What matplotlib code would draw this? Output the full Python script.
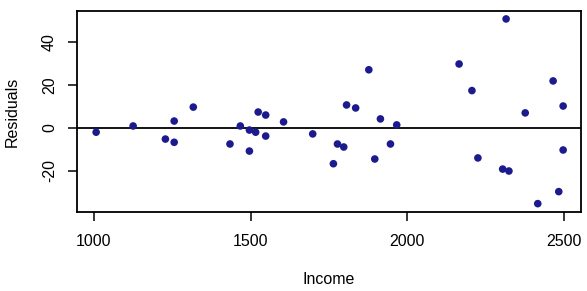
import numpy as np
import matplotlib
matplotlib.use("Agg")
import matplotlib.pyplot as plt

plt.rcParams['font.family'] = ['Liberation Sans', 'DejaVu Sans']
plt.rcParams['axes.unicode_minus'] = False

# residuals vs income
income = [1007, 1125, 1228, 1256, 1256, 1317, 1434, 1467, 1496, 1516, 1496, 1524,
          1548, 1548, 1605, 1698, 1777, 1797, 1764, 1806, 1835, 1877, 1896, 1914,
          1946, 1966, 2165, 2206, 2225, 2304, 2324, 2315, 2376, 2465, 2497, 2497,
          2483, 2416]
residuals = [-2.1, 0.8, -5.3, 3.1, -6.8, 9.6, -7.6, 0.8, -1.1, -2.1, -10.9, 7.3,
             5.9, -3.9, 2.7, -2.9, -7.6, -9.0, -16.8, 10.6, 9.2, 27.0, -14.6, 4.1,
             -7.6, 1.3, 29.7, 17.3, -14.1, -19.3, -20.2, 50.7, 6.9, 21.8, 10.1, -10.4,
             -29.8, -35.4]
xticks = [1000, 1500, 2000, 2500]
yticks = [-20, 0, 20, 40]

fig = plt.figure(figsize=(5.87, 2.91), dpi=100)
ax = fig.add_axes([0.1312, 0.2715, 0.8586, 0.6907])

ax.scatter(income, residuals, s=30, color='#1b1b8e', edgecolors='none', zorder=3)
ax.axhline(0, color='black', lw=1.3, zorder=2)

ax.set_xlim(946, 2554)
ax.set_ylim(-39.3, 54.4)
ax.set_xticks(xticks)
ax.set_yticks(yticks)

for sp in ax.spines.values():
    sp.set_linewidth(1.3)

ax.tick_params(direction='out', length=6.5, width=1.1, labelsize=11.5, pad=9)
ax.tick_params(axis='y', pad=8, labelrotation=90)
for lab in ax.get_yticklabels():
    lab.set_va('center')

ax.set_xlabel('Income', fontsize=11.5, labelpad=17)
ax.set_ylabel('Residuals', fontsize=11.5, labelpad=16)

fig.savefig('out.png', dpi=100)
